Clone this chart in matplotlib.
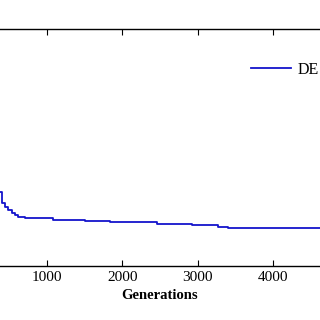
import matplotlib
matplotlib.use('Agg')
import matplotlib.pyplot as plt
import numpy as np

# best value per generation (arbitrary y units 0..10)
gens = [0, 380, 404, 448, 491, 536, 580, 624, 712, 1087, 1507, 1838,
        2457, 2920, 3273, 3405, 5000]
best = [3.13, 3.13, 2.66, 2.50, 2.36, 2.24, 2.15, 2.08, 2.01, 1.94, 1.90,
        1.87, 1.76, 1.72, 1.66, 1.62, 1.62]
xticks = [1000, 2000, 3000, 4000]

plt.rcParams['font.family'] = ['Liberation Serif', 'DejaVu Serif']
plt.rcParams['font.size'] = 11

fig = plt.figure(figsize=(3.2, 3.2), dpi=100)
# axes run past both sides of the picture (cropped figure)
ax = fig.add_axes([-0.09, 0.169, 1.18, 0.74])

ax.step(gens, best, where='post', color='#1414cc', linewidth=1.3, label='DE')

ax.set_xlim(0, 5000)
ax.set_ylim(0, 10)
ax.set_xticks(xticks)
ax.set_yticks([])
ax.tick_params(axis='x', direction='in', top=True, length=4, width=0.8,
               pad=4, labelsize=11)
for s in ax.spines.values():
    s.set_linewidth(1.0)

ax.set_xlabel('Generations', fontweight='bold', fontsize=10.5, labelpad=3)

ax.legend(loc='center left', bbox_to_anchor=(0.785, 0.781),
          bbox_transform=fig.transFigure, frameon=False, fontsize=11.5,
          handlelength=2.5, handletextpad=0.4, borderpad=0, borderaxespad=0)

fig.savefig('out.png', dpi=100)
